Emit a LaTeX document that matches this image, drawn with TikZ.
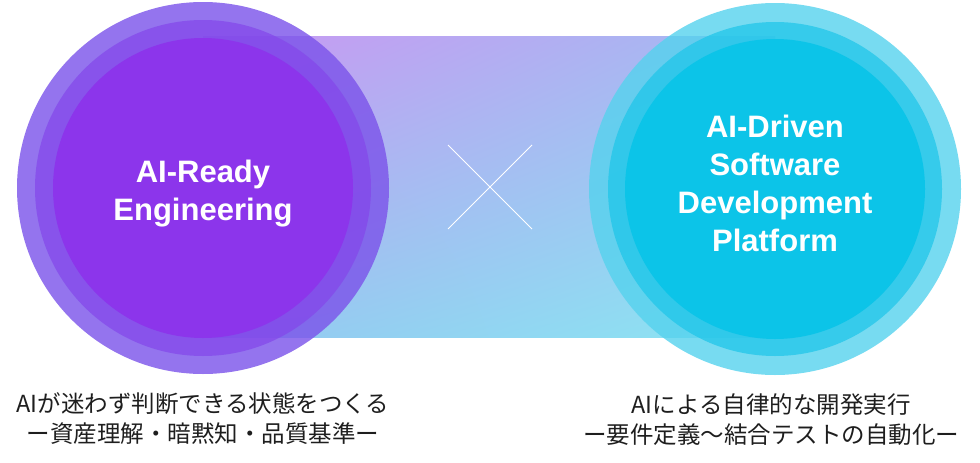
\documentclass[tikz,border=0pt]{standalone}
\usepackage{fontspec}
\setsansfont{Liberation Sans}
\newfontfamily\jpfont{Noto Sans CJK JP}
\usetikzlibrary{positioning,shadings}

\definecolor{readyout}{HTML}{7C55EA}
\definecolor{readymid}{HTML}{8448EA}
\definecolor{readyin}{HTML}{8C35EB}
\definecolor{drivenout}{HTML}{55D2EE}
\definecolor{drivenmid}{HTML}{20C6E9}
\definecolor{drivenin}{HTML}{0CC4E8}
\definecolor{bandtl}{HTML}{CA98F2}
\definecolor{bandtr}{HTML}{A2BCF2}
\definecolor{bandbl}{HTML}{96C6F0}
\definecolor{bandbr}{HTML}{8CE6F3}
\definecolor{captext}{HTML}{1E1E1E}

\tikzset{
ring/.style={circle, draw=none, inner sep=0pt},
title/.style={font=\sffamily\bfseries\fontsize{31}{38}\selectfont, text=white, align=center},
caption/.style={font=\jpfont\fontsize{23.5}{30}\selectfont, text=captext, align=center}
}

\begin{document}
\begin{tikzpicture}[x=1pt,y=-1pt]
\useasboundingbox (0,0) rectangle (980,463);
\shade[upper left=bandtl, upper right=bandtr, lower left=bandbl, lower right=bandbr] (203,36) rectangle (775,337);

\node[ring, fill=readyout, fill opacity=0.82, minimum size=372pt] (readyout) at (203,188) {};
\node[ring, fill=readymid, fill opacity=0.75, minimum size=336pt] (readymid) at (readyout) {};
\node[ring, fill=readyin, minimum size=300pt] (ready) at (readyout) {};
\node[title] (readytext) at ([yshift=-6pt]ready) {AI-Ready\\Engineering};

\node[ring, fill=drivenout, fill opacity=0.8, minimum size=372pt] (drivenout) at (775,189) {};
\node[ring, fill=drivenmid, fill opacity=0.75, minimum size=334pt] (drivenmid) at (drivenout) {};
\node[ring, fill=drivenin, minimum size=300pt] (driven) at (drivenout) {};
\node[title] (driventext) at ([yshift=6pt]driven) {AI-Driven\\Software\\Development\\Platform};

\coordinate (cross) at (490,187);
\draw[white, line width=0.8pt] ([shift={(-42,-42)}]cross) -- ([shift={(42,42)}]cross);
\draw[white, line width=0.8pt] ([shift={(-42,42)}]cross) -- ([shift={(42,-42)}]cross);

\node[caption, below=15pt of readyout] (readycap) {AIが迷わず判断できる状態をつくる\\ー資産理解・暗黙知・品質基準ー};
\node[caption, below=15pt of drivenout, xshift=-4pt] (drivencap) {AIによる自律的な開発実行\\ー要件定義〜結合テストの自動化ー};
\end{tikzpicture}
\end{document}
